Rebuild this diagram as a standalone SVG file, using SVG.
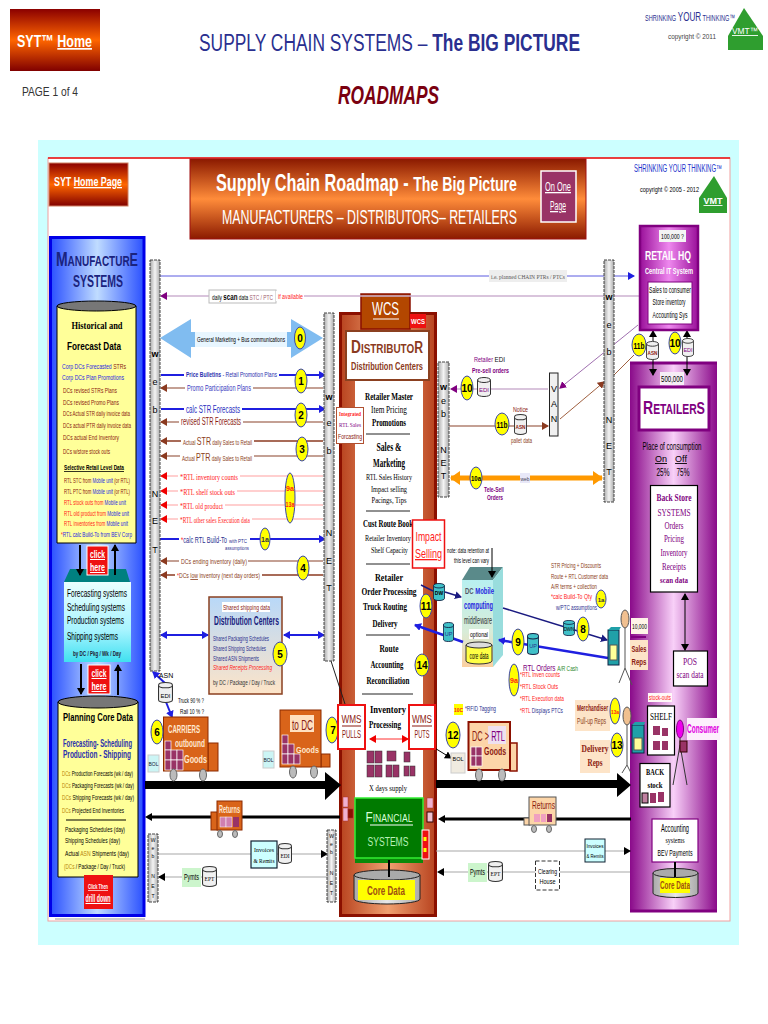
<svg xmlns="http://www.w3.org/2000/svg" width="768" height="1024" viewBox="0 0 768 1024">
<style>
svg{font-family:"Liberation Sans",Arial,sans-serif;font-size:8px}
.r{font-family:"Liberation Serif","Times New Roman",serif}
.b{font-weight:bold}
.m{text-anchor:middle}
.w{fill:#fff}
.navy{fill:#2a2f8f}
.blue{fill:#1f1fe0}
.mar{fill:#8b1a10}
.brn{fill:#8b4020}
.red{fill:#ff1a1a}
.pur{fill:#800080}
.gold{fill:#b8860b}
.ye{fill:#ffff00;stroke:#3a46a8;stroke-width:1}
.num{font-weight:bold;font-size:10px;text-anchor:middle}
.web{fill:url(#gWeb);stroke:#444;stroke-width:1;stroke-dasharray:3 1}
.ln{fill:none}
.lb{stroke:#1f1fe0;stroke-width:2}
.lbt{stroke:#5a5ae0;stroke-width:1}
.lp{stroke:#cdb0d0;stroke-width:1.5}
.lm{stroke:#b08070;stroke-width:1.5}
.ld{stroke:#8b3a20;stroke-width:1.5}
.lr{stroke:#ffa0a0;stroke-width:1.2}
.lg{stroke:#a8a8a8;stroke-width:1.2}
.lk{stroke:#000;stroke-width:1}
.lab{fill:#fff}
.cyt{fill:#40c0c8;stroke:#124;stroke-width:1}
.cyw{fill:#f0f0f0;stroke:#333;stroke-width:1}
.truck{fill:#d9641a;stroke:#8b2a00;stroke-width:1}
.wheel{fill:#bbb;stroke:#666;stroke-width:1}
.wbox{fill:#fff;stroke:#000;stroke-width:1.2}
.bol{fill:#ccf5f5;stroke:#ccc;stroke-width:1}
</style>
<defs>
<linearGradient id="gBtn" x1="0" y1="0" x2="0" y2="1"><stop offset="0" stop-color="#8b0000"/><stop offset=".5" stop-color="#ff6600"/><stop offset="1" stop-color="#800000"/></linearGradient>
<linearGradient id="gBan" x1="0" y1="0" x2="0" y2="1"><stop offset="0" stop-color="#8b1a00"/><stop offset=".5" stop-color="#ff8c3a"/><stop offset="1" stop-color="#8b1a00"/></linearGradient>
<linearGradient id="gMfg" x1="0" y1="0" x2="1" y2="0"><stop offset="0" stop-color="#2a50ff"/><stop offset=".5" stop-color="#c0dcff"/><stop offset="1" stop-color="#2a50ff"/></linearGradient>
<linearGradient id="gWeb" x1="0" y1="0" x2="1" y2="0"><stop offset="0" stop-color="#aaa"/><stop offset=".5" stop-color="#f4f4f4"/><stop offset="1" stop-color="#aaa"/></linearGradient>
<linearGradient id="gFc" x1="0" y1="0" x2="0" y2="1"><stop offset="0" stop-color="#eaffff"/><stop offset=".6" stop-color="#a8f4ff"/><stop offset="1" stop-color="#40e0f0"/></linearGradient>
<linearGradient id="gShare" x1="0" y1="0" x2="0" y2="1"><stop offset="0" stop-color="#b8d8f8"/><stop offset="1" stop-color="#fde4c8"/></linearGradient>
<linearGradient id="gDist" x1="0" y1="0" x2="1" y2="0"><stop offset="0" stop-color="#b8431f"/><stop offset=".5" stop-color="#f0a070"/><stop offset="1" stop-color="#b8431f"/></linearGradient>
<linearGradient id="gRet" x1="0" y1="0" x2="1" y2="0"><stop offset="0" stop-color="#8a0a8a"/><stop offset=".5" stop-color="#f8d0f8"/><stop offset="1" stop-color="#8a0a8a"/></linearGradient>
<linearGradient id="gHq" x1="0" y1="0" x2="1" y2="0"><stop offset="0" stop-color="#9a109a"/><stop offset=".5" stop-color="#ee88ee"/><stop offset="1" stop-color="#9a109a"/></linearGradient>
<linearGradient id="gMob" x1="0" y1="0" x2="0" y2="1"><stop offset="0" stop-color="#b8f0f0"/><stop offset=".6" stop-color="#d8ecd8"/><stop offset="1" stop-color="#fbd0a0"/></linearGradient>
<linearGradient id="gCylG" x1="0" y1="0" x2="1" y2="0"><stop offset="0" stop-color="#aaa"/><stop offset=".5" stop-color="#e8e8e8"/><stop offset="1" stop-color="#aaa"/></linearGradient>
<symbol id="cyl" viewBox="0 0 14 20" preserveAspectRatio="none"><path d="M.5 3V17A6.5 2.5 0 0 0 13.500 17V3"/><ellipse cx="7" cy="3" rx="6.500" ry="2.500"/></symbol>
<marker id="aB" markerUnits="userSpaceOnUse" markerWidth="8" markerHeight="8" refX="6" refY="4" orient="auto-start-reverse"><path d="M0 0L7 4L0 8Z" fill="#1f1fe0"/></marker>
<marker id="aN" markerUnits="userSpaceOnUse" markerWidth="8" markerHeight="8" refX="6" refY="4" orient="auto-start-reverse"><path d="M0 0L7 4L0 8Z" fill="#1a1a80"/></marker>
<marker id="aD" markerUnits="userSpaceOnUse" markerWidth="8" markerHeight="8" refX="6" refY="4" orient="auto-start-reverse"><path d="M0 0L7 4L0 8Z" fill="#8b3a20"/></marker>
<marker id="aR" markerUnits="userSpaceOnUse" markerWidth="8" markerHeight="8" refX="6" refY="4" orient="auto-start-reverse"><path d="M0 0L7 4L0 8Z" fill="#f00000"/></marker>
<marker id="aP" markerUnits="userSpaceOnUse" markerWidth="8" markerHeight="8" refX="6" refY="4" orient="auto-start-reverse"><path d="M0 0L7 4L0 8Z" fill="#800080"/></marker>
<marker id="aK" markerUnits="userSpaceOnUse" markerWidth="8" markerHeight="8" refX="6" refY="4" orient="auto-start-reverse"><path d="M0 0L7 4L0 8Z" fill="#000"/></marker>
<marker id="aO" markerUnits="userSpaceOnUse" markerWidth="11" markerHeight="14" refX="9" refY="7" orient="auto-start-reverse"><path d="M0 0L10 7L0 14Z" fill="#ff9900"/></marker>
</defs>

<rect width="768" height="1024" fill="#fff"/>

<g id="page-header">
<g id="home-button"><rect x="10" y="9" width="90" height="62" fill="url(#gBtn)"/>
<text x="17" y="47" font-size="17" textLength="75" lengthAdjust="spacingAndGlyphs" class="b w">SYT™ <tspan text-decoration="underline">Home</tspan></text></g>
<text x="199" y="51" font-size="23" textLength="381" lengthAdjust="spacingAndGlyphs" class="navy">SUPPLY CHAIN SYSTEMS – <tspan class="b">The BIG PICTURE</tspan></text>
<text x="22" y="96" font-size="12" textLength="56" lengthAdjust="spacingAndGlyphs" fill="#333">PAGE 1 of 4</text>
<text x="338" y="104" font-size="25" textLength="101" lengthAdjust="spacingAndGlyphs" class="b" font-style="italic" fill="#7a0010">ROADMAPS</text>
<text x="645" y="21" font-size="9" textLength="90" lengthAdjust="spacingAndGlyphs" class="navy">SHRINKING <tspan font-size="13">YOUR</tspan> THINKING™</text>
<text x="668" y="39" font-size="7" textLength="48" lengthAdjust="spacingAndGlyphs" fill="#444">copyright © 2011</text>
<g id="vmt-top"><path d="M744 8L763 36V50H728V36Z" fill="#2f9e2f"/><text x="745" y="34" font-size="9" class="m w" textLength="26" lengthAdjust="spacingAndGlyphs" text-decoration="underline">VMT™</text></g>
</g>

<rect x="38" y="140" width="701" height="805" fill="#ccffff"/>
<rect x="48" y="158" width="682" height="763" fill="#fff" stroke="#f0a0a0" stroke-width="1"/>
<path d="M48 158H730" stroke="#e81010" stroke-width="1.500"/>
<path d="M55 919H145" stroke="#999" stroke-width="1"/>

<g id="manufacture-systems"><rect x="50.500" y="237.500" width="93.500" height="678" fill="url(#gMfg)" stroke="#0000e8" stroke-width="3"/>
<text x="97" y="266" font-size="15" class="m b" textLength="82" lengthAdjust="spacingAndGlyphs" fill="#1a237e"><tspan font-size="21">M</tspan>ANUFACTUR<tspan font-size="19">E</tspan></text>
<text x="98" y="287" font-size="16" class="m b" textLength="50" lengthAdjust="spacingAndGlyphs" fill="#1a237e">SYSTEMS</text>
</g>

<g id="forecasting-systems"><rect x="64" y="582" width="67" height="80" fill="url(#gFc)"/><path d="M64 582L70 569H126L130 582Z" fill="#008080"/>
<g font-size="11"><text x="67" y="597" textLength="60" lengthAdjust="spacingAndGlyphs">Forecasting systems</text>
<text x="67" y="611" textLength="58" lengthAdjust="spacingAndGlyphs">Scheduling systems</text>
<text x="67" y="624" textLength="57" lengthAdjust="spacingAndGlyphs">Production systems</text>
<text x="67" y="640" textLength="51" lengthAdjust="spacingAndGlyphs">Shipping systems</text></g>
<text x="97" y="656" font-size="8" class="m b" fill="#223" textLength="48" lengthAdjust="spacingAndGlyphs">by DC / Pkg / Wk / Day</text></g>

<g id="distributor">
<rect x="340.500" y="313.500" width="95" height="602" fill="url(#gDist)" stroke="#8b1000" stroke-width="3"/>
<rect x="355" y="380" width="68" height="418" fill="#fff"/>
<g id="wcs"><rect x="361" y="294" width="49" height="35" fill="#b34700" stroke="#8b1000" stroke-width="1.500"/><text x="385.500" y="315" font-size="18" class="m w" textLength="27" lengthAdjust="spacingAndGlyphs">WCS</text><path d="M373 319H399" stroke="#fff"/>
<rect x="410" y="314" width="16" height="14" fill="#ee1111"/><text x="418" y="324" font-size="7" class="m w b" textLength="14" lengthAdjust="spacingAndGlyphs">WCS</text></g>
<g id="distributor-title"><rect x="346" y="331" width="83" height="49" fill="#fff" stroke="#8b4020" stroke-width="2"/>
<text x="387" y="353" font-size="13" class="m b" textLength="72" lengthAdjust="spacingAndGlyphs" fill="#8b3a20"><tspan font-size="18">D</tspan>ISTRIBUTO<tspan font-size="16">R</tspan></text>
<text x="387" y="370" font-size="11" class="m b" textLength="72" lengthAdjust="spacingAndGlyphs" fill="#8b3a20">Distribution Centers</text></g>
<g>
<text x="389" y="400" class="m r b" font-size="10" textLength="48" lengthAdjust="spacingAndGlyphs">Retailer Master</text>
<text x="389" y="413" class="m r" font-size="10" textLength="36" lengthAdjust="spacingAndGlyphs">Item Pricing</text>
<text x="389" y="426" class="m r b" font-size="10" textLength="34" lengthAdjust="spacingAndGlyphs">Promotions</text>
<text x="389" y="451" class="m r b" font-size="12" textLength="25" lengthAdjust="spacingAndGlyphs">Sales &amp;</text>
<text x="389" y="467" class="m r b" font-size="12" textLength="32" lengthAdjust="spacingAndGlyphs">Marketing</text>
<text x="389" y="480" class="m r" font-size="9" textLength="46" lengthAdjust="spacingAndGlyphs">RTL Sales History</text>
<text x="389" y="492" class="m r" font-size="9" textLength="36" lengthAdjust="spacingAndGlyphs">Impact selling</text>
<text x="389" y="503" class="m r" font-size="9" textLength="35" lengthAdjust="spacingAndGlyphs">Pacings, Tips</text>
<text x="363" y="527" class="r b" font-size="11" textLength="50" lengthAdjust="spacingAndGlyphs">Cust Route Book</text>
<text x="365" y="541" class="r" font-size="9" textLength="46" lengthAdjust="spacingAndGlyphs">Retailer Inventory</text>
<text x="371" y="553" class="r" font-size="9" textLength="37" lengthAdjust="spacingAndGlyphs">Shelf Capacity</text>
<text x="389" y="581" class="m r b" font-size="11" textLength="28" lengthAdjust="spacingAndGlyphs">Retailer</text>
<text x="389" y="595" class="m r b" font-size="11" textLength="55" lengthAdjust="spacingAndGlyphs">Order Processing</text>
<text x="385" y="610" class="m r b" font-size="11" textLength="44" lengthAdjust="spacingAndGlyphs">Truck Routing</text>
<text x="385" y="627" class="m r b" font-size="11" textLength="25" lengthAdjust="spacingAndGlyphs">Delivery</text>
<text x="389" y="652" class="m r b" font-size="11" textLength="19" lengthAdjust="spacingAndGlyphs">Route</text>
<text x="387" y="668" class="m r b" font-size="11" textLength="33" lengthAdjust="spacingAndGlyphs">Accounting</text>
<text x="388" y="684" class="m r b" font-size="11" textLength="43" lengthAdjust="spacingAndGlyphs">Reconciliation</text>
<text x="388" y="713" class="m r b" font-size="11" textLength="36" lengthAdjust="spacingAndGlyphs">Inventory</text>
<text x="385" y="728" class="m r b" font-size="11" textLength="32" lengthAdjust="spacingAndGlyphs">Processing</text>
<text x="388" y="791" class="m r" font-size="9" textLength="38" lengthAdjust="spacingAndGlyphs">X days supply</text>
</g>
<path d="M366 434H410M366 511H410M366 564H410M366 635H410M362 694H413" stroke="#222" stroke-width="1"/>
<g fill="#993366" stroke="#333" stroke-width=".5"><rect x="367" y="751" width="7" height="12"/><rect x="375" y="751" width="7" height="12"/><rect x="367" y="765" width="7" height="12"/><rect x="375" y="765" width="7" height="12"/><rect x="387" y="751" width="9" height="10"/><rect x="386" y="765" width="6" height="12"/><rect x="393" y="765" width="6" height="12"/><rect x="404" y="752" width="6" height="10"/><rect x="404" y="766" width="5" height="10"/><rect x="410" y="766" width="5" height="10"/></g>
<g id="financial-systems"><rect x="355" y="798" width="68" height="65" fill="#0a8a0a"/><rect x="355" y="798" width="68" height="60" fill="#007a00" stroke="#33ee33" stroke-width="1.500"/>
<text x="389" y="822" font-size="11" class="m" textLength="47" lengthAdjust="spacingAndGlyphs" fill="#d8ffd8"><tspan font-size="15">F</tspan>INANCIAL</text><path d="M370 825H413" stroke="#fff"/>
<text x="388" y="846" font-size="12" class="m" textLength="41" lengthAdjust="spacingAndGlyphs" fill="#b8f0b8">SYSTEMS</text></g>
<rect x="422" y="830" width="7" height="29" fill="#ee1111" stroke="#fff"/><rect x="423.500" y="837" width="3" height="4" fill="#ff0"/><rect x="423.500" y="848" width="3" height="4" fill="#ff0"/>
<g stroke="#a33" stroke-width=".5"><rect x="343" y="797" width="5" height="10" fill="#f0b0d0"/><rect x="343" y="808" width="5" height="13" fill="#f0b0d0"/><rect x="348" y="809" width="5" height="9" fill="#8b1000"/><rect x="427" y="798" width="6" height="10" fill="#f0b0d0"/><rect x="427" y="812" width="6" height="10" fill="#f0c0d0" stroke="#300" stroke-width="1"/></g>
<g id="core-data-dist"><path d="M354 875V899A33 5 0 0 0 420 899V875Z" fill="url(#gCylG)" stroke="#222"/><ellipse cx="387" cy="875" rx="33" ry="5" fill="#aaa" stroke="#222"/><rect x="358" y="880" width="57" height="20" fill="#ffff00"/><text x="386" y="895" font-size="13" class="m b" textLength="38" lengthAdjust="spacingAndGlyphs" fill="#a05010">Core Data</text></g>
</g>

<g id="retailers"><rect x="630" y="363" width="87" height="548" fill="url(#gRet)"/><path d="M630 363H717M630 911H717" stroke="#800080" stroke-width="3"/>
<rect x="660" y="372" width="24" height="13" fill="#f6eef6"/><text x="672" y="382" font-size="9" class="m" textLength="22" lengthAdjust="spacingAndGlyphs">500,000</text>
<rect x="639" y="387" width="70" height="43" fill="#fff" stroke="#800080" stroke-width="3"/><text x="674" y="414" font-size="14" class="m b pur" textLength="62" lengthAdjust="spacingAndGlyphs"><tspan font-size="19">R</tspan>ETAILER<tspan font-size="17">S</tspan></text>
<text x="672" y="450" font-size="11" class="m" textLength="59" lengthAdjust="spacingAndGlyphs">Place of consumption</text>
<text x="661" y="462" font-size="9" class="m" text-decoration="underline">On</text><text x="681" y="462" font-size="9" class="m" text-decoration="underline">Off</text>
<text x="663" y="476" font-size="10" class="m" textLength="13" lengthAdjust="spacingAndGlyphs">25%</text><text x="683" y="476" font-size="10" class="m" textLength="13" lengthAdjust="spacingAndGlyphs">75%</text>
<g id="back-store"><rect x="650.500" y="485.500" width="47" height="106.500" class="wbox"/><text x="674" y="501" class="m r b pur" font-size="10" textLength="35" lengthAdjust="spacingAndGlyphs">Back Store</text><text x="674" y="516" class="m r pur" font-size="11" textLength="33" lengthAdjust="spacingAndGlyphs">SYSTEMS</text><text x="674" y="529" class="m r pur" font-size="11" textLength="19" lengthAdjust="spacingAndGlyphs">Orders</text><text x="674" y="542" class="m r pur" font-size="11" textLength="20" lengthAdjust="spacingAndGlyphs">Pricing</text><text x="674" y="556" class="m r pur" font-size="11" textLength="27" lengthAdjust="spacingAndGlyphs">Inventory</text><text x="674" y="570" class="m r pur" font-size="11" textLength="24" lengthAdjust="spacingAndGlyphs">Receipts</text><text x="674" y="583" class="m r b pur" font-size="9" textLength="28" lengthAdjust="spacingAndGlyphs">scan data</text></g>
<g id="pos"><rect x="673.500" y="651" width="34" height="35" class="wbox"/><text x="690" y="665" font-size="11" class="m r pur" textLength="14" lengthAdjust="spacingAndGlyphs">POS</text><text x="690" y="678" font-size="10" class="m r pur" textLength="27" lengthAdjust="spacingAndGlyphs">scan data</text></g>
<g id="shelf"><rect x="647.500" y="706" width="27" height="49" class="wbox"/><text x="661" y="720" font-size="10" class="m r" textLength="22" lengthAdjust="spacingAndGlyphs">SHELF</text><g fill="#993366"><rect x="653" y="726" width="7" height="9"/><rect x="662" y="728" width="6" height="8"/><rect x="653" y="741" width="7" height="9"/><rect x="662" y="741" width="6" height="9"/></g></g>
<g id="stock-outs"><rect x="648" y="693" width="24" height="9" fill="#fff8f8"/><text x="660" y="700" font-size="7" class="m red" textLength="22" lengthAdjust="spacingAndGlyphs">stock-outs</text></g>
<g id="back-stock"><rect x="640" y="763.500" width="30" height="43.500" class="wbox"/><text x="655" y="775" font-size="9" class="m r b" textLength="18" lengthAdjust="spacingAndGlyphs">BACK</text><text x="655" y="788" font-size="9" class="m r b" textLength="15" lengthAdjust="spacingAndGlyphs">stock</text><g fill="#993366"><rect x="642" y="793" width="6" height="10" fill="#c080a0" stroke="#000"/><rect x="650" y="793" width="6" height="10"/><rect x="658" y="792" width="6" height="10"/></g></g>
<g id="accounting-systems"><rect x="652" y="819" width="46" height="43" fill="#fff" stroke="#800080" stroke-width="1.200"/><text x="675" y="832" font-size="10" class="m" textLength="28" lengthAdjust="spacingAndGlyphs">Accounting</text><text x="675" y="843" font-size="8" class="m r" textLength="19" lengthAdjust="spacingAndGlyphs">systems</text><text x="675" y="856" font-size="9" class="m" textLength="35" lengthAdjust="spacingAndGlyphs">BEV Payments</text></g>
<g id="core-data-ret"><path d="M653 873V893A22.500 4.500 0 0 0 698 893V873Z" fill="url(#gCylG)" stroke="#222"/><ellipse cx="675.500" cy="873" rx="22.500" ry="4.500" fill="#aaa" stroke="#222"/><rect x="660" y="878" width="30" height="15" fill="#ffff00"/><text x="675" y="889" font-size="11" class="m b" textLength="30" lengthAdjust="spacingAndGlyphs" fill="#a05010">Core Data</text></g>
</g>

<g id="dc-mobile">
<path d="M462 580L470 567H503L493 580Z" fill="#5a8a8a"/><path d="M493 580L503 567V655L493 667Z" fill="#99dddd"/>
<rect x="462" y="580" width="31" height="87" fill="url(#gMob)"/>
<text x="465" y="594" font-size="9" textLength="29" lengthAdjust="spacingAndGlyphs" class="b blue"><tspan fill="#556">DC</tspan> Mobile</text>
<text x="464" y="609" font-size="10" textLength="29" lengthAdjust="spacingAndGlyphs" class="b blue">computing</text>
<text x="464" y="624" font-size="10" textLength="28" lengthAdjust="spacingAndGlyphs" fill="#333">middleware</text>
<rect x="469" y="629" width="20" height="10" fill="#fff"/><text x="479" y="637" font-size="8" class="m" textLength="18" lengthAdjust="spacingAndGlyphs">optional</text>
<path d="M466 645V661A13 3 0 0 0 492 661V645Z" fill="#ffff44" stroke="#333"/><ellipse cx="479" cy="645" rx="13" ry="3" fill="#ddd" stroke="#333"/><text x="479" y="659" font-size="9" class="m" textLength="19" lengthAdjust="spacingAndGlyphs">core data</text></g>

<g id="connectors" fill="none">
<path class="ln lbt" d="M158 276H634" marker-end="url(#aB)"/>
<path class="ln lp" d="M161 296H639" marker-start="url(#aP)"/>
<path class="ln lb" d="M161 375H325" marker-end="url(#aB)"/>
<path class="ln lm" d="M161 388H323" marker-start="url(#aD)"/>
<path class="ln lb" d="M161 409H325" marker-end="url(#aB)"/>
<path class="ln lm" d="M161 422H323" marker-start="url(#aD)"/>
<path class="ln ld" d="M161 441H323" marker-start="url(#aD)"/>
<path class="ln lm" d="M161 456H323" marker-start="url(#aD)"/>
<path class="ln lr" d="M161 476H323" marker-start="url(#aR)"/>
<path class="ln lr" d="M161 491H323" marker-start="url(#aR)"/>
<path class="ln lr" d="M161 505H323" marker-start="url(#aR)"/>
<path class="ln lr" d="M161 519H323" marker-start="url(#aR)"/>
<path class="ln lb" d="M160 539H325" marker-end="url(#aB)"/>
<path class="ln lm" d="M161 561H323" marker-start="url(#aD)"/>
<path class="ln ld" d="M161 575H323" marker-start="url(#aD)"/>
<path class="ln lb" d="M161 635H208" marker-start="url(#aB)" marker-end="url(#aB)"/>
<path class="ln lb" d="M284 635H324" marker-start="url(#aB)" marker-end="url(#aB)"/>
<path class="ln lb" d="M166 684L153 672" marker-end="url(#aB)"/>
<path class="ln lb" d="M166 702L172 717" marker-end="url(#aB)"/>
<path d="M80 545V575" stroke="#000" stroke-width="2" marker-end="url(#aK)"/>
<path d="M115 575V545" stroke="#000" stroke-width="2" marker-end="url(#aK)"/>
<path d="M81 664V694" stroke="#000" stroke-width="2" marker-end="url(#aK)"/>
<path d="M118 695V665" stroke="#000" stroke-width="2" marker-end="url(#aK)"/>
<path d="M331 661L345 704" stroke="#222" stroke-width="1"/>
<path class="ln lk" d="M433 747L451 758" marker-end="url(#aK)"/>

<path d="M145 781H325V772L341 785L325 800V789H145Z" fill="#000"/>
<path d="M436 780H617V773L631 785L617 797V788H436Z" fill="#000"/>
<path d="M145 817L152 813V815.500H340V818.500H152V821Z" fill="#000"/>
<path d="M438 819L445 815V817.500H631V820.500H445V823Z" fill="#000"/>
<path class="ln lg" d="M158 854H327" marker-end="url(#aK)"/>
<path class="ln lg" d="M327 877H159" marker-end="url(#aK)"/>
<path class="ln lg" d="M436 851H630" marker-end="url(#aK)"/>
<path class="ln lg" d="M630 872H438" marker-end="url(#aK)"/>

<path class="ln lp" d="M548 389H451" marker-end="url(#aP)"/>
<path class="ln lm" d="M449 426H548" marker-end="url(#aD)"/>
<path d="M560 388L638 325" stroke="#a070b0" stroke-width="1" marker-start="url(#aP)"/>
<path d="M560 419L604 382" stroke="#a06040" stroke-width="1" marker-end="url(#aD)"/>
<path d="M614 375L634 355" stroke="#a06040" stroke-width="1"/>
<path d="M451 478H602" stroke="#ff9900" stroke-width="5" marker-start="url(#aO)" marker-end="url(#aO)"/>
<path class="ln lk" d="M653 341V331" marker-end="url(#aK)"/>
<path class="ln lk" d="M653 358V375" marker-end="url(#aK)"/>
<path class="ln lk" d="M687 338V331" marker-end="url(#aK)"/>
<path class="ln lk" d="M687 357V375" marker-end="url(#aK)"/>
<path class="ln lk" d="M685 594V650" marker-start="url(#aK)" marker-end="url(#aK)"/>

<path d="M421 585L433 591" stroke="#1a1a80" stroke-width="1.500"/>
<path d="M445 592L461 597" stroke="#1a1a80" stroke-width="1.500" marker-end="url(#aN)"/>
<path d="M463 642L415 625" stroke="#1f1fe0" stroke-width="2.500" marker-end="url(#aB)"/>
<path d="M503 608L607 640" stroke="#1a1a80" stroke-width="1.500" marker-end="url(#aN)"/>
<path d="M608 658L499 640" stroke="#1f1fe0" stroke-width="2.500" marker-end="url(#aB)"/>
<path class="ln lk" d="M492 548V577" marker-end="url(#aK)"/>
<path d="M370 739H408" stroke="#ff3030" stroke-width="1" marker-start="url(#aR)" marker-end="url(#aR)"/>
<path d="M389 860V877M675 862V877" stroke="#000" stroke-width="2"/>
</g>

<g id="syt-home-page"><rect x="49" y="163" width="79" height="43" fill="url(#gBtn)" stroke="#d08060"/>
<text x="54" y="186" font-size="13" textLength="68" lengthAdjust="spacingAndGlyphs" class="b w">SYT <tspan text-decoration="underline">Home Page</tspan></text></g>

<g id="banner"><rect x="190" y="159" width="396" height="80" fill="url(#gBan)" stroke="#a01010"/>
<text x="216" y="191" font-size="23" textLength="301" lengthAdjust="spacingAndGlyphs" class="b w">Supply Chain Roadmap - <tspan font-size="20">The Big Picture</tspan></text>
<text x="222" y="224" font-size="21" textLength="295" lengthAdjust="spacingAndGlyphs" class="w">MANUFACTURERS – DISTRIBUTORS– RETAILERS</text>
<g id="on-one-page"><rect x="541" y="171" width="35" height="51" fill="#993366" stroke="#fff" stroke-width="1.500"/>
<text x="558" y="191" font-size="13" class="m w" textLength="26" lengthAdjust="spacingAndGlyphs" text-decoration="underline">On One</text>
<text x="558" y="210" font-size="13" class="m w" textLength="16" lengthAdjust="spacingAndGlyphs" text-decoration="underline">Page</text></g></g>

<g id="shrinking-logo">
<text x="634" y="172" font-size="10" textLength="88" lengthAdjust="spacingAndGlyphs" fill="#2233cc">SHRINKING YOUR THINKING™</text>
<text x="640" y="192" font-size="8" textLength="59" lengthAdjust="spacingAndGlyphs">copyright © 2005 - 2012</text>
<path d="M714 176L727 198V213H699V198Z" fill="#2f9e2f"/><text x="713" y="204" font-size="9" class="m w b" text-decoration="underline">VMT</text>
</g>

<g id="historical-forecast-data">
<path d="M57 306V543H136V306Z" fill="#ffff99" stroke="#000"/>
<ellipse cx="96.500" cy="306" rx="39.500" ry="5" fill="#777" stroke="#000"/>
<text x="97" y="329" font-size="10" class="m b r" textLength="51" lengthAdjust="spacingAndGlyphs">Historical and</text>
<text x="94" y="350" font-size="11" class="m b" textLength="54" lengthAdjust="spacingAndGlyphs">Forecast Data</text>
<g font-size="8">
<text x="62" y="369" textLength="64" lengthAdjust="spacingAndGlyphs" class="blue">Corp DCs Forecasted <tspan class="mar">STRs</tspan></text>
<text x="62" y="380" textLength="62" lengthAdjust="spacingAndGlyphs" class="blue">Corp DCs Plan Promotions</text>
<text x="63" y="393" textLength="54" lengthAdjust="spacingAndGlyphs" class="mar">DCs revised STRs Plans</text>
<text x="63" y="405" textLength="56" lengthAdjust="spacingAndGlyphs" class="mar">DCs revised Promo Plans</text>
<text x="63" y="416" textLength="67" lengthAdjust="spacingAndGlyphs" class="mar">DCs Actual STR daily invoice data</text>
<text x="63" y="428" textLength="68" lengthAdjust="spacingAndGlyphs" class="mar">DCs actual PTR daily invoice data</text>
<text x="63" y="440" textLength="56" lengthAdjust="spacingAndGlyphs" class="mar">DCs actual End Inventory</text>
<text x="63" y="454" textLength="47" lengthAdjust="spacingAndGlyphs" class="mar">DCs w/store stock outs</text>
<text x="64" y="470" textLength="60" lengthAdjust="spacingAndGlyphs" text-decoration="underline" class="b">Selective Retail Level Data</text>
<text x="64" y="483" textLength="66" lengthAdjust="spacingAndGlyphs" class="mar">RTL STC from <tspan class="blue">Mobile unit</tspan> (or RTL)</text>
<text x="64" y="494" textLength="66" lengthAdjust="spacingAndGlyphs" class="mar">RTL PTC from <tspan class="blue">Mobile unit</tspan> (or RTL)</text>
<text x="64" y="505" textLength="62" lengthAdjust="spacingAndGlyphs" class="red">RTL stock outs from <tspan class="blue">Mobile unit</tspan></text>
<text x="64" y="516" textLength="65" lengthAdjust="spacingAndGlyphs" class="red">RTL old product from <tspan class="blue">Mobile unit</tspan></text>
<text x="64" y="526" textLength="64" lengthAdjust="spacingAndGlyphs" class="red">RTL inventories from <tspan class="blue">Mobile unit</tspan></text>
<text x="61" y="537" textLength="71" lengthAdjust="spacingAndGlyphs" class="blue"><tspan class="red">*</tspan>RTL calc Build-To from BEV Corp</text>
</g></g>

<g id="click-here-1"><rect x="87" y="546" width="21" height="29" fill="#ee1111" stroke="#fff"/><text x="97.500" y="558" font-size="10" class="m w b" text-decoration="underline" textLength="15" lengthAdjust="spacingAndGlyphs">click</text><text x="97.500" y="571" font-size="10" class="m w b" text-decoration="underline" textLength="15" lengthAdjust="spacingAndGlyphs">here</text></g>

<g id="click-here-2"><rect x="88" y="665" width="22" height="29" fill="#ee1111" stroke="#fff"/><text x="99" y="677" font-size="10" class="m w b" text-decoration="underline" textLength="15" lengthAdjust="spacingAndGlyphs">click</text><text x="99" y="690" font-size="10" class="m w b" text-decoration="underline" textLength="15" lengthAdjust="spacingAndGlyphs">here</text></g>

<g id="planning-core-data">
<path d="M58 702V877H138V702Z" fill="#ffff99" stroke="#000"/>
<ellipse cx="98" cy="702" rx="40" ry="6" fill="#777" stroke="#000"/>
<text x="63" y="721" font-size="11" textLength="70" lengthAdjust="spacingAndGlyphs" class="b">Planning Core Data</text>
<text x="63" y="747" font-size="11" textLength="69" lengthAdjust="spacingAndGlyphs" class="b" fill="#2a2fae">Forecasting- Scheduling</text>
<text x="63" y="758" font-size="11" textLength="68" lengthAdjust="spacingAndGlyphs" class="b" fill="#2a2fae">Production - Shipping</text>
<g font-size="8">
<text x="62" y="776" textLength="71" lengthAdjust="spacingAndGlyphs"><tspan class="gold">DCs</tspan> Production Forecasts (wk / day)</text>
<text x="62" y="788" textLength="72" lengthAdjust="spacingAndGlyphs"><tspan class="gold">DCs</tspan> Packaging Forecasts (wk / day)</text>
<text x="62" y="800" textLength="72" lengthAdjust="spacingAndGlyphs"><tspan class="gold">DCs</tspan> Shipping Forecasts (wk / day)</text>
<text x="62" y="813" textLength="62" lengthAdjust="spacingAndGlyphs"><tspan class="gold">DCs</tspan> Projected End Inventories</text>
<text x="65" y="832" textLength="60" lengthAdjust="spacingAndGlyphs">Packaging Schedules (day)</text>
<text x="65" y="843" textLength="55" lengthAdjust="spacingAndGlyphs">Shipping Schedules (day)</text>
<text x="65" y="856" textLength="64" lengthAdjust="spacingAndGlyphs">Actual <tspan class="gold">ASN</tspan> Shipments (day)</text>
<text x="64" y="869" textLength="61" lengthAdjust="spacingAndGlyphs"><tspan class="gold">(DCs</tspan> / Package / Day / Truck)</text>
</g>
<path d="M66 820H126" stroke="#000" stroke-width="1"/>
</g>

<g id="click-drill"><rect x="84" y="875" width="29" height="34" fill="#ee1111"/><text x="98" y="889" font-size="7" class="m w b" text-decoration="underline" textLength="20" lengthAdjust="spacingAndGlyphs">Click Then</text><text x="98" y="902" font-size="10" class="m w b" text-decoration="underline" textLength="25" lengthAdjust="spacingAndGlyphs">drill down</text></g>

<g id="web-net-1"><rect x="150" y="260" width="10" height="411" class="web"/>
<g font-size="9"><text x="155" y="357" class="m b">w</text><text x="155" y="385" class="m">e</text><text x="155" y="413" class="m">b</text><text x="155" y="497" class="m">N</text><text x="155" y="524" class="m">E</text><text x="155" y="553" class="m">T</text></g></g>
<g id="web-net-2"><rect x="324" y="313" width="10" height="348" class="web"/>
<g font-size="9"><text x="329" y="400" class="m b">w</text><text x="329" y="426" class="m">e</text><text x="329" y="454" class="m">b</text><text x="329" y="536" class="m">N</text><text x="329" y="564" class="m">E</text><text x="329" y="591" class="m">T</text></g></g>
<g id="web-net-3"><rect x="438" y="362" width="11" height="135" class="web"/>
<g font-size="9"><text x="443.500" y="390" class="m b">w</text><text x="443.500" y="404" class="m">e</text><text x="443.500" y="417" class="m">b</text><text x="443.500" y="453" class="m">N</text><text x="443.500" y="466" class="m">E</text><text x="443.500" y="479" class="m">T</text></g></g>
<g id="web-net-4"><rect x="604" y="260" width="10" height="242" class="web"/>
<g font-size="9"><text x="609" y="300" class="m b">w</text><text x="609" y="328" class="m">e</text><text x="609" y="355" class="m">b</text><text x="609" y="423" class="m">N</text><text x="609" y="449" class="m">E</text><text x="609" y="475" class="m">T</text></g></g>
<g id="web-net-5" font-size="5"><rect x="148" y="834" width="10" height="68" class="web"/><text x="153" y="842" class="m">W</text><text x="153" y="850" class="m">e</text><text x="153" y="858" class="m">b</text><text x="153" y="878" class="m">N</text><text x="153" y="888" class="m">E</text><text x="153" y="898" class="m">T</text></g>
<g id="web-net-6" font-size="5"><rect x="327" y="830" width="9" height="72" class="web"/><text x="331.500" y="838" class="m">W</text><text x="331.500" y="846" class="m">e</text><text x="331.500" y="854" class="m">b</text><text x="331.500" y="875" class="m">N</text><text x="331.500" y="885" class="m">E</text><text x="331.500" y="895" class="m">T</text></g>

<g id="labels-left">
<rect x="489" y="270" width="78" height="12" fill="#eee"/><text x="491" y="279" font-size="7" class="r" textLength="74" lengthAdjust="spacingAndGlyphs" fill="#555">i.e. planned CHAIN PTRs / PTCs</text>
<rect x="209" y="290" width="67" height="13" fill="#fff" stroke="#bbb"/><text x="212" y="300" font-size="7" textLength="61" lengthAdjust="spacingAndGlyphs">daily <tspan class="b" font-size="9">scan</tspan> data <tspan fill="#a06070">STC / PTC</tspan></text>
<rect x="276" y="291" width="28" height="10" class="lab"/><text x="278" y="299" font-size="7" class="red" textLength="25" lengthAdjust="spacingAndGlyphs">if available</text>
<g id="marketing-arrow"><path d="M160 338L191 319V332H291V319L323 338L291 358V347H191V358Z" fill="#80bcf0"/>
<rect x="195" y="332" width="92" height="15" fill="#e8f6ff"/><text x="197" y="342" font-size="8" textLength="88" lengthAdjust="spacingAndGlyphs">General Marketing + Bus communications</text></g>
<rect x="184" y="369" width="95" height="12" class="lab"/><text x="186" y="377" font-size="8" textLength="91" lengthAdjust="spacingAndGlyphs" fill="#2a2fae"><tspan class="b">Price Bulletins</tspan> - Retail Promotion Plans</text>
<rect x="185" y="383" width="68" height="10" class="lab"/><text x="187" y="391" font-size="9" textLength="64" lengthAdjust="spacingAndGlyphs" fill="#3a3ac0">Promo Participation Plans</text>
<rect x="184" y="403" width="58" height="12" class="lab"/><text x="186" y="413" font-size="10" textLength="54" lengthAdjust="spacingAndGlyphs" fill="#2a2fc0">calc STR Forecasts</text>
<rect x="179" y="417" width="64" height="11" class="lab"/><text x="181" y="425" font-size="10" textLength="60" lengthAdjust="spacingAndGlyphs" class="mar">revised STR Forecasts</text>
<rect x="181" y="435" width="73" height="12" class="lab"/><text x="183" y="445" font-size="7" textLength="69" lengthAdjust="spacingAndGlyphs" class="brn">Actual <tspan font-size="11">STR</tspan> daily Sales to Retail</text>
<rect x="180" y="451" width="74" height="11" class="lab"/><text x="182" y="461" font-size="7" textLength="70" lengthAdjust="spacingAndGlyphs" class="brn">Actual <tspan font-size="11">PTR</tspan> daily Sales to Retail</text>
<g font-size="8">
<rect x="178" y="471" width="62" height="10" class="lab"/><text x="180" y="480" textLength="58" lengthAdjust="spacingAndGlyphs" class="r red">*RTL inventory counts</text>
<rect x="178" y="486" width="59" height="10" class="lab"/><text x="180" y="495" textLength="55" lengthAdjust="spacingAndGlyphs" class="r red">*RTL shelf stock outs</text>
<rect x="178" y="500" width="47" height="10" class="lab"/><text x="180" y="509" textLength="43" lengthAdjust="spacingAndGlyphs" class="r red">*RTL old product</text>
<rect x="178" y="514" width="74" height="10" class="lab"/><text x="180" y="523" textLength="70" lengthAdjust="spacingAndGlyphs" class="r red">*RTL other sales Execution data</text>
</g>
<rect x="179" y="533" width="71" height="11" class="lab"/><text x="181" y="543" font-size="9" textLength="46" lengthAdjust="spacingAndGlyphs" class="navy"><tspan class="red">*</tspan>calc RTL Build-To</text><text x="229" y="543" font-size="6" textLength="18" lengthAdjust="spacingAndGlyphs" class="navy">with PTC</text><text x="225" y="550" font-size="6" textLength="24" lengthAdjust="spacingAndGlyphs" class="navy">assumptions</text>
<rect x="179" y="555" width="69" height="11" class="lab"/><text x="181" y="564" font-size="8" textLength="66" lengthAdjust="spacingAndGlyphs" class="brn">DCs ending inventory (daily)</text>
<rect x="175" y="569" width="87" height="11" class="lab"/><text x="177" y="578" font-size="8" textLength="83" lengthAdjust="spacingAndGlyphs" class="brn"><tspan class="red">*</tspan>DCs <tspan text-decoration="underline">low</tspan> inventory (next day orders)</text>
</g>

<g id="badges-left">
<ellipse cx="300" cy="338" rx="5.500" ry="11" class="ye"/><text x="300" y="342" class="num">0</text>
<ellipse cx="301" cy="381" rx="6" ry="12" class="ye"/><text x="301" y="385" class="num">1</text>
<ellipse cx="301" cy="415" rx="6" ry="12" class="ye"/><text x="301" y="419" class="num">2</text>
<ellipse cx="302" cy="449" rx="6" ry="12" class="ye"/><text x="302" y="453" class="num">3</text>
<ellipse cx="290" cy="498" rx="5" ry="25" class="ye"/><text x="290" y="491" font-size="7" class="m b red">9a</text><text x="290" y="507" font-size="7" class="m b red" textLength="9" lengthAdjust="spacingAndGlyphs">13a</text>
<ellipse cx="265" cy="539" rx="5" ry="11" class="ye"/><text x="265" y="542" font-size="7" class="m b" fill="#334">1a</text>
<ellipse cx="303" cy="568" rx="6" ry="12" class="ye"/><text x="303" y="572" class="num">4</text>
</g>

<g id="shared-distribution-centers"><rect x="209" y="597" width="73" height="97" fill="url(#gShare)" stroke="#8b4020" stroke-width="1.500"/>
<rect x="222" y="602" width="48" height="10" fill="#fff"/><text x="223" y="610" font-size="8" textLength="47" lengthAdjust="spacingAndGlyphs" class="mar">Shared shipping data</text>
<text x="214" y="625" font-size="12" textLength="65" lengthAdjust="spacingAndGlyphs" class="b" fill="#1a237e">Distribution Centers</text>
<g font-size="7"><text x="213" y="641" textLength="56" lengthAdjust="spacingAndGlyphs" class="navy">Shared Packaging Schedules</text>
<text x="213" y="651" textLength="53" lengthAdjust="spacingAndGlyphs" class="navy">Shared Shipping Schedules</text>
<text x="213" y="661" textLength="46" lengthAdjust="spacingAndGlyphs" class="navy">Shared ASN Shipments</text>
<text x="213" y="670" textLength="59" lengthAdjust="spacingAndGlyphs" font-style="italic" class="red">Shared Receipts Processing</text>
<text x="213" y="685" textLength="62" lengthAdjust="spacingAndGlyphs" fill="#333">by DC / Package / Day / Truck</text></g>
<ellipse cx="280" cy="654" rx="7" ry="12" class="ye"/><text x="280" y="658" class="num">5</text></g>

<g id="asn-edi"><text x="166" y="678" font-size="7" class="m">ASN</text><use href="#cyl" x="158" y="682" width="15" height="21" class="cyw"/><text x="165.500" y="698" font-size="6" class="m">EDI</text></g>
<text x="178" y="703" font-size="6.500" textLength="26" lengthAdjust="spacingAndGlyphs">Truck 90 % ?</text>
<text x="180" y="714" font-size="6.500" textLength="24" lengthAdjust="spacingAndGlyphs">Rail 10 % ?</text>

<g id="carriers-truck"><rect x="208" y="743" width="10" height="28" class="truck"/><rect x="163.500" y="717" width="44.500" height="54" class="truck"/>
<g fill="#993366" stroke="#fff" stroke-width=".7"><rect x="165" y="741" width="6" height="9"/><rect x="165" y="750" width="6" height="10"/><rect x="171" y="750" width="6" height="10"/><rect x="177" y="750" width="6" height="10"/><rect x="165" y="760" width="6" height="10"/><rect x="171" y="760" width="6" height="10"/><rect x="177" y="760" width="6" height="10"/></g>
<text x="168" y="733" font-size="11" class="b" textLength="32" lengthAdjust="spacingAndGlyphs" fill="#ffe8d0">CARRIERS</text><text x="175" y="747" font-size="11" class="b" textLength="30" lengthAdjust="spacingAndGlyphs" fill="#ffe8d0">outbound</text><text x="184" y="763" font-size="11" class="b" textLength="23" lengthAdjust="spacingAndGlyphs" fill="#ffe8d0">Goods</text>
<ellipse cx="173.500" cy="775" rx="3.500" ry="6" class="wheel"/><ellipse cx="203" cy="775" rx="3.500" ry="6" class="wheel"/></g>
<ellipse cx="157" cy="732" rx="6" ry="12" class="ye"/><text x="157" y="736" class="num">6</text>
<g id="bol-1"><rect x="148" y="755" width="11" height="17" class="bol"/><text x="153.500" y="766" font-size="5" class="m" fill="#223">BOL</text></g>

<g id="to-dc-truck"><rect x="321" y="754" width="9" height="13" class="truck"/><rect x="280" y="710" width="41" height="57" class="truck"/>
<rect x="290" y="715" width="24" height="17" fill="#ffe0c0"/><text x="292" y="730" font-size="14" textLength="21" lengthAdjust="spacingAndGlyphs" class="mar">to DC</text>
<g fill="#993366" stroke="#fff" stroke-width=".7"><rect x="282" y="735" width="6" height="9"/><rect x="282" y="744" width="6" height="10"/><rect x="288" y="744" width="6" height="10"/><rect x="282" y="754" width="6" height="10"/><rect x="288" y="754" width="6" height="10"/><rect x="294" y="754" width="6" height="10"/></g>
<text x="296" y="753" font-size="9" class="b" textLength="23" lengthAdjust="spacingAndGlyphs" fill="#ffe8d0">Goods</text>
<ellipse cx="293" cy="772" rx="3.500" ry="6" class="wheel"/><ellipse cx="314" cy="772" rx="3.500" ry="6" class="wheel"/></g>
<g id="bol-2"><rect x="263" y="751" width="11" height="17" class="bol"/><text x="268.500" y="762" font-size="5" class="m" fill="#223">BOL</text></g>

<g id="returns-left"><rect x="211" y="812" width="7" height="18" class="truck"/><rect x="217" y="801" width="25" height="29" class="truck"/>
<text x="219" y="813" font-size="10" class="b" textLength="21" lengthAdjust="spacingAndGlyphs" fill="#ffe8d0">Returns</text>
<rect x="220" y="817" width="6" height="10" fill="#d07fb0" stroke="#fff" stroke-width=".5"/><rect x="226" y="817" width="6" height="10" fill="#d07fb0" stroke="#fff" stroke-width=".5"/><rect x="233" y="817" width="6" height="10" fill="#993366"/>
<ellipse cx="220" cy="834" rx="2.500" ry="3.500" class="wheel"/><ellipse cx="235" cy="834" rx="2.500" ry="3.500" class="wheel"/></g>

<g id="invoices-left"><rect x="251" y="841" width="26" height="27" fill="#ccffff" stroke="#123" stroke-width="1.200"/><text x="264" y="852" font-size="7" class="m r" textLength="20" lengthAdjust="spacingAndGlyphs">Invoices</text><text x="264" y="863" font-size="7" class="m r" textLength="21" lengthAdjust="spacingAndGlyphs">&amp; Remits</text></g>
<g id="edi-left"><use href="#cyl" x="278" y="843" width="14" height="21" class="cyw"/><text x="285" y="858" font-size="5.500" class="m r">EDI</text></g>
<g id="pymts-left"><rect x="182" y="868" width="19" height="19" fill="#ccf5cc"/><text x="191.500" y="880" font-size="9" class="m" textLength="15" lengthAdjust="spacingAndGlyphs">Pymts</text></g>
<g id="ept-left"><use href="#cyl" x="202" y="866" width="15" height="21" class="cyw"/><text x="209.500" y="881" font-size="5.500" class="m r">EPT</text></g>

<g id="integrated"><rect x="336.500" y="407.500" width="27" height="36" fill="#fff" stroke="#b05030"/><text x="350" y="416" font-size="6" class="m r b red" textLength="22" lengthAdjust="spacingAndGlyphs">Integrated</text><text x="350" y="427" font-size="7" class="m r pur" textLength="22" lengthAdjust="spacingAndGlyphs">RTL Sales</text><text x="350" y="439" font-size="7" class="m mar" textLength="24" lengthAdjust="spacingAndGlyphs">Forcasting</text></g>
<g id="impact-selling"><rect x="412.500" y="520" width="32" height="48" fill="#fff" stroke="#ee1111" stroke-width="1.500"/><text x="428.500" y="541" font-size="13" class="m red" textLength="26" lengthAdjust="spacingAndGlyphs">Impact</text><text x="428.500" y="558" font-size="13" class="m red" textLength="27" lengthAdjust="spacingAndGlyphs" text-decoration="underline">Selling</text></g>
<ellipse cx="426" cy="606" rx="6" ry="12" class="ye"/><text x="426" y="610" class="num">11</text>
<ellipse cx="422" cy="665" rx="7" ry="11" class="ye"/><text x="422" y="669" class="num">14</text>
<ellipse cx="332" cy="730" rx="6" ry="13" class="ye"/><text x="333" y="734" class="num">7</text>
<g id="wms-pulls"><rect x="338" y="705" width="27" height="44" fill="#fff" stroke="#ee1111" stroke-width="2"/><text x="351.500" y="723" font-size="11" class="m mar" textLength="20" lengthAdjust="spacingAndGlyphs">WMS</text><path d="M342 726H361" stroke="#8b1a10"/><text x="351.500" y="738" font-size="10" class="m mar" textLength="19" lengthAdjust="spacingAndGlyphs">PULLS</text></g>
<g id="wms-puts"><rect x="409" y="705" width="26" height="44" fill="#fff" stroke="#ee1111" stroke-width="2"/><text x="422" y="723" font-size="11" class="m mar" textLength="20" lengthAdjust="spacingAndGlyphs">WMS</text><path d="M412 726H432" stroke="#8b1a10"/><text x="422" y="738" font-size="10" class="m mar" textLength="15" lengthAdjust="spacingAndGlyphs">PUTS</text></g>

<g id="bol-3"><rect x="451" y="753" width="14" height="20" fill="#f0ebe0" stroke="#ccc"/><text x="458" y="761" font-size="5.500" class="m">BOL</text></g>
<ellipse cx="453" cy="735" rx="7" ry="13" class="ye"/><text x="453" y="739" class="num">12</text>

<g id="rfid"><rect x="454" y="704" width="9" height="11" fill="#ffff00"/><text x="458.500" y="712" font-size="5" class="m red b">10C</text><text x="465" y="711" font-size="7" textLength="31" lengthAdjust="spacingAndGlyphs" class="navy">*RFID Tagging</text></g>

<g id="dc-rtl-truck"><rect x="510" y="743" width="7" height="28" fill="#fcd5a8" stroke="#8b1000" stroke-width="1.500"/><rect x="468.500" y="722" width="41.500" height="48" fill="#fcd5a8" stroke="#8b1000" stroke-width="2"/>
<rect x="488" y="726" width="18" height="18" fill="#eee0f0"/><text x="472" y="741" font-size="14" textLength="33" lengthAdjust="spacingAndGlyphs" class="mar">DC &gt; <tspan class="pur">RTL</tspan></text>
<text x="484" y="755" font-size="10" class="b mar" textLength="22" lengthAdjust="spacingAndGlyphs">Goods</text>
<g fill="#993366" stroke="#fff" stroke-width=".7"><rect x="471" y="747" width="5" height="9"/><rect x="476" y="747" width="6" height="9"/><rect x="471" y="756" width="5" height="10"/><rect x="476" y="756" width="6" height="10"/></g>
<ellipse cx="479" cy="775" rx="3.500" ry="6" class="wheel"/><ellipse cx="502" cy="775" rx="3.500" ry="6" class="wheel"/></g>

<g id="returns-right"><rect x="524" y="818" width="6" height="7" fill="#fcd5a8" stroke="#555"/><rect x="529" y="797" width="27" height="28" fill="#fcd5a8" stroke="#555"/>
<text x="532" y="809" font-size="10" class="mar" textLength="23" lengthAdjust="spacingAndGlyphs">Returns</text>
<rect x="534" y="814" width="6" height="8" fill="#f0a0c0"/><rect x="541" y="814" width="5" height="8" fill="#f0a0c0"/><rect x="547" y="814" width="5" height="8" fill="#993366"/>
<ellipse cx="534" cy="829" rx="2.500" ry="3.500" class="wheel"/><ellipse cx="549" cy="829" rx="2.500" ry="3.500" class="wheel"/></g>
<g id="invoices-right"><rect x="585" y="839" width="20" height="23" fill="#ccffff" stroke="#123"/><text x="595" y="848" font-size="6" class="m" textLength="17" lengthAdjust="spacingAndGlyphs">Invoices</text><text x="595" y="858" font-size="6" class="m" textLength="17" lengthAdjust="spacingAndGlyphs">&amp; Remits</text></g>
<g id="pymts-right"><rect x="468" y="863" width="19" height="19" fill="#ccf5cc"/><text x="477.500" y="875" font-size="9" class="m" textLength="15" lengthAdjust="spacingAndGlyphs">Pymts</text></g>
<g id="ept-right"><use href="#cyl" x="488" y="861" width="15" height="21" class="cyw"/><text x="495.500" y="876" font-size="5.500" class="m r">EPT</text></g>
<g id="clearing-house"><rect x="535.500" y="861" width="24" height="29" fill="#fff" stroke="#333" stroke-dasharray="4 2"/><text x="547.500" y="874" font-size="8" class="m" textLength="19" lengthAdjust="spacingAndGlyphs">Clearing</text><text x="547.500" y="884" font-size="8" class="m" textLength="16" lengthAdjust="spacingAndGlyphs">House</text></g>

<g id="van"><rect x="549.500" y="373" width="8.500" height="63" fill="#f0f0f0" stroke="#222"/><text x="554" y="392" font-size="9" class="m">V</text><text x="554" y="407" font-size="9" class="m">A</text><text x="554" y="422" font-size="9" class="m">N</text></g>

<g id="edi-presell">
<text x="474" y="362" font-size="7" textLength="31" lengthAdjust="spacingAndGlyphs" class="pur">Retailer <tspan font-size="8" fill="#111">EDI</tspan></text>
<text x="472" y="373" font-size="7" textLength="37" lengthAdjust="spacingAndGlyphs" class="pur b">Pre-sell orders</text>
<ellipse cx="467" cy="388" rx="6" ry="12" class="ye"/><text x="467" y="392" class="num">10</text>
<use href="#cyl" x="477" y="377" width="14" height="20" class="cyw"/><text x="484" y="392" font-size="6" class="m pur">EDI</text></g>
<g id="asn-notice">
<text x="520.500" y="412" font-size="7" class="m mar" textLength="15" lengthAdjust="spacingAndGlyphs">Notice</text>
<ellipse cx="502" cy="424" rx="7" ry="11" class="ye"/><text x="502" y="428" font-size="9" class="m b" textLength="11" lengthAdjust="spacingAndGlyphs">11b</text>
<use href="#cyl" x="514" y="414" width="13" height="21" class="cyw"/><text x="520.500" y="429" font-size="6" class="m mar b" textLength="10" lengthAdjust="spacingAndGlyphs">ASN</text>
<text x="521.500" y="443" font-size="7" class="m brn" textLength="21" lengthAdjust="spacingAndGlyphs">pallet data</text></g>
<g id="tele-sell">
<ellipse cx="476" cy="478" rx="6" ry="11" class="ye"/><text x="476" y="481" font-size="8" class="m b" textLength="10" lengthAdjust="spacingAndGlyphs">10a</text>
<rect x="520" y="473" width="10" height="10" fill="#e8e8f8"/><text x="525" y="481" font-size="6" class="m" fill="#445" textLength="9" lengthAdjust="spacingAndGlyphs">web</text>
<text x="494" y="492" font-size="7" class="m b pur" textLength="20" lengthAdjust="spacingAndGlyphs">Tele-Sell</text><text x="495" y="500" font-size="7" class="m b pur" textLength="16" lengthAdjust="spacingAndGlyphs">Orders</text></g>

<g id="retail-hq"><rect x="640" y="226" width="58" height="104" fill="url(#gHq)" stroke="#800080" stroke-width="2.500"/>
<rect x="659" y="230" width="27" height="12" fill="#f4f4f4"/><text x="672.500" y="239" font-size="8" class="m" textLength="23" lengthAdjust="spacingAndGlyphs">100,000 ?</text>
<text x="668" y="260" font-size="13" class="m b w" textLength="46" lengthAdjust="spacingAndGlyphs">RETAIL HQ</text>
<text x="669" y="274" font-size="9" class="m b w" textLength="48" lengthAdjust="spacingAndGlyphs">Central IT System</text>
<rect x="648" y="282" width="44" height="42" fill="#fff" stroke="#800080"/><g font-size="9"><text x="670" y="293" class="m" textLength="42" lengthAdjust="spacingAndGlyphs">Sales to consumer</text><text x="669" y="305" class="m" textLength="33" lengthAdjust="spacingAndGlyphs">Store inventory</text><text x="670" y="318" class="m" textLength="35" lengthAdjust="spacingAndGlyphs">Accounting Sys</text></g></g>

<g id="asn-hq"><ellipse cx="639" cy="345" rx="7" ry="11" class="ye"/><text x="639" y="349" font-size="9" class="m b" textLength="11" lengthAdjust="spacingAndGlyphs">11b</text><use href="#cyl" x="646" y="341" width="13" height="19" class="cyw"/><text x="652.500" y="355" font-size="5.500" class="m mar b" textLength="10" lengthAdjust="spacingAndGlyphs">ASN</text></g>
<g id="edi-hq"><ellipse cx="675" cy="343" rx="6" ry="11" class="ye"/><text x="675" y="347" class="num">10</text><use href="#cyl" x="682" y="338" width="12" height="19" class="cyw"/><text x="688" y="352" font-size="5.500" class="m pur">EDI</text></g>

<g id="consumer"><rect x="687" y="718" width="33" height="22" fill="#fdeffd"/><text x="687" y="733" font-size="12" class="b" textLength="32" lengthAdjust="spacingAndGlyphs" fill="#e000e0">Consumer</text>
<path d="M680 738V745L673 785M680 745L687 785" stroke="#333" stroke-width="1" fill="none"/><ellipse cx="680" cy="729" rx="3.500" ry="9" fill="#ee00ee" stroke="#800080"/><rect x="680" y="741" width="7" height="11" fill="#993366" stroke="#300"/></g>

<text x="447" y="553" font-size="7" textLength="42" lengthAdjust="spacingAndGlyphs">note: data retention at</text>
<text x="454" y="563" font-size="7" textLength="35" lengthAdjust="spacingAndGlyphs">this level can vary</text>
<g id="dwn-left"><use href="#cyl" x="433" y="583" width="12" height="18" class="cyt"/><text x="439" y="595" font-size="5" class="m b">DW</text></g>
<g id="up-left"><use href="#cyl" x="443" y="622" width="11" height="20" class="cyt"/><text x="448.500" y="636" font-size="5.500" class="m navy">UP</text></g>

<g id="str-pricing" font-size="8">
<text x="551" y="568" textLength="50" lengthAdjust="spacingAndGlyphs" class="brn">STR Pricing + Discounts</text>
<text x="551" y="579" textLength="57" lengthAdjust="spacingAndGlyphs" class="brn">Route + RTL Customer data</text>
<text x="551" y="589" textLength="46" lengthAdjust="spacingAndGlyphs" class="brn">A/R terms + collection</text>
<text x="551" y="599" textLength="41" lengthAdjust="spacingAndGlyphs" class="red">*calc Build-To Qty</text>
<ellipse cx="601" cy="599" rx="5" ry="9" class="ye"/><text x="601" y="602" font-size="6" class="m b" fill="#334">1a</text>
<text x="556" y="610" textLength="41" lengthAdjust="spacingAndGlyphs" class="navy">w/PTC assumptions</text></g>

<g id="sales-reps">
<path d="M625 628V668L619 683M625 668L632 685" stroke="#555" stroke-width="1" fill="none"/><ellipse cx="625" cy="619" rx="4" ry="9" fill="#f0c090" stroke="#555"/>
<rect x="631" y="618" width="17" height="16" fill="#fff4e8"/><text x="639.500" y="629" font-size="8" class="m" textLength="15" lengthAdjust="spacingAndGlyphs">10,000</text>
<path d="M631 637H646" stroke="#800080" stroke-width="2"/>
<rect x="630" y="640" width="18" height="30" fill="#fde4c8"/><text x="639" y="652" font-size="9" class="m b mar" textLength="15" lengthAdjust="spacingAndGlyphs">Sales</text><text x="639" y="665" font-size="9" class="m b mar" textLength="15" lengthAdjust="spacingAndGlyphs">Reps</text>
<rect x="608" y="630" width="11" height="35" fill="#20a0a8" stroke="#124"/><path d="M608 630L611 627H621L619 630Z" fill="#20a0a8"/><rect x="610" y="645" width="7" height="15" fill="#ffff99" stroke="#555"/></g>
<g id="dwn-right"><use href="#cyl" x="563" y="620" width="12" height="16" class="cyt"/><text x="569" y="631" font-size="4.500" class="m">DWN</text></g>
<ellipse cx="583" cy="629" rx="6" ry="12" class="ye"/><text x="583" y="633" class="num">8</text>
<ellipse cx="518" cy="642" rx="6" ry="13" class="ye"/><text x="518" y="646" class="num">9</text>
<g id="up-right"><use href="#cyl" x="527" y="633" width="12" height="22" class="cyt"/><text x="533" y="648" font-size="5.500" class="m navy">UP</text></g>

<g id="rtl-orders" font-size="7">
<text x="523" y="671" font-size="9" textLength="55" lengthAdjust="spacingAndGlyphs" class="pur">RTL Orders <tspan font-size="7" fill="#2a8a2a">A/R Cash</tspan></text>
<ellipse cx="514" cy="680" rx="5" ry="16" class="ye"/><text x="514" y="683" font-size="7" class="m b red">9a</text>
<text x="520" y="677" textLength="40" lengthAdjust="spacingAndGlyphs" class="red">*RTL Inven counts</text>
<text x="520" y="689" textLength="38" lengthAdjust="spacingAndGlyphs" class="red">*RTL Stock Outs</text>
<text x="520" y="701" textLength="44" lengthAdjust="spacingAndGlyphs" class="red">*RTL Execution data</text>
<text x="520" y="713" textLength="43" lengthAdjust="spacingAndGlyphs" class="navy"><tspan class="red">*RTL</tspan> Displays PTCs</text></g>

<g id="merchandiser"><rect x="575" y="700" width="35" height="31" fill="#fde4c8"/><text x="577" y="711" font-size="9" textLength="31" lengthAdjust="spacingAndGlyphs" class="b mar">Merchandiser</text><text x="577" y="724" font-size="9" textLength="29" lengthAdjust="spacingAndGlyphs" class="brn">Pull-up Reps</text>
<ellipse cx="615" cy="711" rx="5" ry="13" class="ye"/><text x="615" y="714" font-size="6" class="m b red" textLength="8" lengthAdjust="spacingAndGlyphs">13a</text>
<path d="M627 725V765L622 773M627 765L631 773" stroke="#555" fill="none"/><ellipse cx="627" cy="716" rx="4" ry="9" fill="#f0c090" stroke="#555"/>
<rect x="632" y="725" width="12" height="28" fill="#20a0a8" stroke="#124"/><path d="M632 725L635 722H645L644 725Z" fill="#20a0a8"/><rect x="634" y="738" width="8" height="12" fill="#ffff99" stroke="#555"/></g>
<g id="delivery-reps"><rect x="580" y="740" width="30" height="33" fill="#fde4c8"/><text x="595" y="752" font-size="11" class="m r b mar" textLength="27" lengthAdjust="spacingAndGlyphs">Delivery</text><text x="595" y="766" font-size="10" class="m r b mar" textLength="15" lengthAdjust="spacingAndGlyphs">Reps</text>
<ellipse cx="617" cy="745" rx="6" ry="12" class="ye"/><text x="617" y="749" class="num">13</text></g>
</svg>
